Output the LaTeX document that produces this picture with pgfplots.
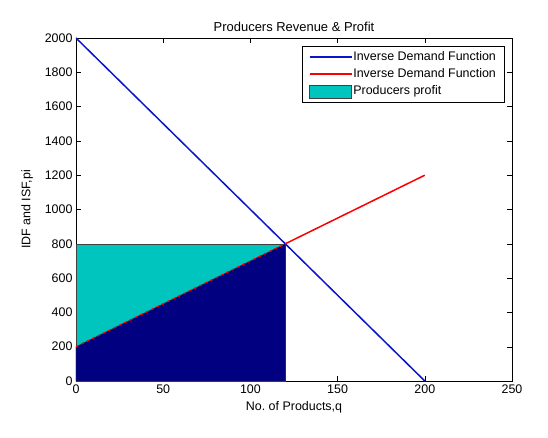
\documentclass[border=0pt]{standalone}
\usepackage{fontspec}
\setmainfont{Liberation Sans}
\usepackage{pgfplots}
\pgfplotsset{compat=1.18}
\definecolor{mcyan}{RGB}{0,196,190}
\definecolor{mnavy}{RGB}{0,0,128}
\definecolor{mblue}{RGB}{10,20,200}
\definecolor{mred}{RGB}{250,0,0}
\pgfplotsset{
  bluelegend/.style={legend image code/.code={\draw[draw=mblue, line width=1.5bp] (0bp,0bp) -- (42bp,0bp);}},
  redlegend/.style={legend image code/.code={\draw[draw=mred, line width=1.5bp] (0bp,0bp) -- (42bp,0bp);}},
  patchlegend/.style={legend image code/.code={\draw[fill=mcyan, draw=black!75] (0bp,-7bp) rectangle (42bp,6.5bp);}},
}
\begin{document}
\begin{tikzpicture}
\begin{axis}[
  scale only axis, width=436bp, height=343bp,
  xmin=0, xmax=250, ymin=0, ymax=2000,
  xtick={0,50,...,250}, ytick={0,200,...,2000},
  tick align=inside, major tick length=5bp,
  tick style={black, thin},
  axis line style={black, thin},
  font=\fontsize{12.5}{14}\selectfont,
  /pgf/number format/assume math mode=true,
  /pgf/number format/1000 sep={},
  scaled ticks=false,
  title={Producers Revenue \& Profit},
  title style={font=\fontsize{13}{15}\selectfont, yshift=-3bp},
  xlabel={No.\ of Products,q}, ylabel={IDF and ISF,pi},
  xlabel style={yshift=-1bp}, ylabel style={yshift=5bp},
  legend cell align=left,
  legend style={font=\fontsize{12.5}{14}\selectfont, inner xsep=7bp, inner ysep=4bp,
    row sep=3.5bp, at={(0.982,0.976)}, anchor=north east,
    nodes={inner xsep=1bp, inner ysep=1.5bp}},
]
\addlegendimage{bluelegend}
\addlegendentry{Inverse Demand Function}
\addlegendimage{redlegend}
\addlegendentry{Inverse Demand Function}
\addlegendimage{patchlegend}
\addlegendentry{Producers profit}
\addplot[fill=mcyan, draw=black!75, forget plot]
  coordinates {(0,0) (0,800) (120,800) (120,0)} -- cycle;
\addplot[fill=mnavy, draw=black!80, forget plot] coordinates {(0,0) (0,200) (120,800) (120,0)} -- cycle;
\addplot[color=mblue, line width=1.5bp, forget plot] coordinates {(0,2000) (200,0)};
\addplot[color=mred, line width=1.3bp, dashed, forget plot] coordinates {(0,200) (120,800)};
\addplot[color=mred, line width=1.5bp, forget plot] coordinates {(120,800) (200,1200)};
\end{axis}
\path (current axis.south west) +(-76bp,-57bp) (current axis.north east) +(36bp,38bp);
\end{tikzpicture}
\end{document}
